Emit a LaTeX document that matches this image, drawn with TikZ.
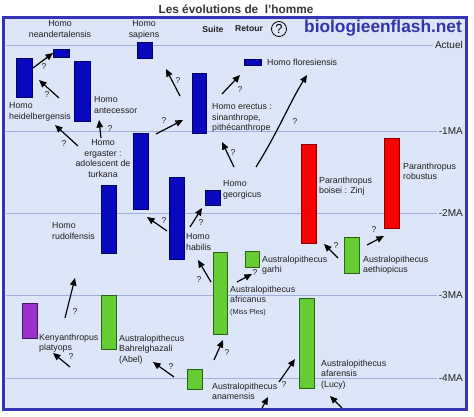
\documentclass[tikz,border=0pt]{standalone}
\usepackage{fontspec}
\setmainfont{Liberation Sans}
\usetikzlibrary{arrows.meta}
\definecolor{fond}{RGB}{221,229,248}
\definecolor{cadre}{RGB}{52,52,180}
\definecolor{trait}{RGB}{160,174,222}
\definecolor{texte}{RGB}{30,30,30}
\definecolor{site}{RGB}{51,51,170}
\definecolor{homo}{RGB}{8,8,190}
\definecolor{homob}{RGB}{0,0,100}
\definecolor{para}{RGB}{250,0,0}
\definecolor{parab}{RGB}{140,0,0}
\definecolor{austr}{RGB}{102,204,51}
\definecolor{austrb}{RGB}{40,100,20}
\definecolor{kenya}{RGB}{153,51,204}
\definecolor{kenyab}{RGB}{70,20,100}
\newcommand{\lab}{\fontsize{8.8}{10.5}\selectfont}
\newcommand{\espece}[6]{\node[#1, minimum width=#4, minimum height=#5] (#6) at (#2,#3) {};}
\tikzset{
  barre/.style={draw, line width=0.7pt, anchor=north west, inner sep=0pt},
  bhomo/.style={barre, fill=homo, draw=homob},
  bpara/.style={barre, fill=para, draw=parab},
  baustr/.style={barre, fill=austr, draw=austrb},
  bkenya/.style={barre, fill=kenya, draw=kenyab},
  lab/.style={font=\lab, text=texte, align=left, anchor=north west, inner sep=0pt},
  labc/.style={lab, align=center, anchor=north},
  qm/.style={font=\fontsize{8.5}{10}\selectfont, text=texte, inner sep=0pt},
  fleche/.style={line width=1.2pt, -{Triangle[length=7.5pt,width=6.5pt]}},
  ligne/.style={draw=trait, line width=0.8pt},
  ma/.style={font=\fontsize{10}{12}\selectfont, text=texte, anchor=east, inner sep=0pt},
}

\begin{document}
\begin{tikzpicture}[x=1pt,y=-1pt]
  \useasboundingbox (0,0) rectangle (474,417);
  \fill[fond] (3.5,17.5) rectangle (466.5,409.5);

  % echelle des temps
  \node[ma] (T0) at (463,44.5) {Actuel};
  \node[ma] (T1) at (463,131.5) {-1MA};
  \node[ma] (T2) at (463,213) {-2MA};
  \node[ma] (T3) at (463,295.5) {-3MA};
  \node[ma] (T4) at (463,378) {-4MA};
  \coordinate (G0) at (6,45.5);
  \coordinate (G1) at (6,131.5);
  \coordinate (G2) at (6,213);
  \coordinate (G3) at (6,295.5);
  \coordinate (G4) at (6,378);
  \draw[ligne] (G0) -- ([xshift=-2pt]T0.west |- G0);
  \draw[ligne] (G1) -- ([xshift=-2pt]T1.west |- G1);
  \draw[ligne] (G2) -- ([xshift=-2pt]T2.west |- G2);
  \draw[ligne] (G3) -- ([xshift=-2pt]T3.west |- G3);
  \draw[ligne] (G4) -- ([xshift=-2pt]T4.west |- G4);

  % genre Homo
  \espece{bhomo}{16}{58}{16}{39}{HEI}
  \espece{bhomo}{53}{49}{16}{8}{NEA}
  \espece{bhomo}{74}{61}{16}{60}{ANT}
  \espece{bhomo}{137}{42}{15}{16}{SAP}
  \espece{bhomo}{192}{73}{14}{60}{ERE}
  \espece{bhomo}{244}{59}{17}{6}{FLO}
  \espece{bhomo}{133}{133}{15}{76}{ERG}
  \espece{bhomo}{101}{185}{15}{68}{RUD}
  \espece{bhomo}{169}{177}{15}{82}{HAB}
  \espece{bhomo}{205}{190}{15}{15}{GEO}
  % Paranthropes
  \espece{bpara}{301}{144}{15}{99}{BOI}
  \espece{bpara}{384}{138}{15}{90}{ROB}
  % Australopitheques
  \espece{baustr}{344}{237}{15}{36}{AET}
  \espece{baustr}{245}{251}{14}{16}{GAR}
  \espece{baustr}{213}{252}{14}{82}{AFR}
  \espece{baustr}{299}{298}{15}{90}{AFA}
  \espece{baustr}{187}{369}{15}{20}{ANA}
  \espece{baustr}{101}{295}{15}{54}{BAH}
  \espece{bkenya}{22}{303}{15}{35}{KEN}

  \node[labc] (NEAl) at (60,20.5) {Homo\\neandertalensis};
  \node[labc] (SAPl) at (144,20.5) {Homo\\sapiens};
  \node[lab] (HEIl) at (9,102.5) {Homo\\heidelbergensis};
  \node[lab] (ANTl) at (94,96.5) {Homo\\antecessor};
  \node[lab] (EREl) at (212,103.5) {Homo erectus :\\sinanthrope,\\pithécanthrope};
  \node[lab] (FLOl) at (267,58.5) {Homo floresiensis};
  \node[labc] (ERGl) at (103,139.5) {Homo\\ergaster :\\adolescent de\\turkana};
  \node[lab] (RUDl) at (52,222.5) {Homo\\rudolfensis};
  \node[lab] (HABl) at (186,233.5) {Homo\\habilis};
  \node[lab] (GEOl) at (223,180.5) {Homo\\georgicus};
  \node[lab] (BOIl) at (319,176.5) {Paranthropus\\boisei : Zinj};
  \node[lab] (ROBl) at (403,162.5) {Paranthropus\\robustus};
  \node[lab] (AETl) at (363,255.5) {Australopithecus\\aethiopicus};
  \node[lab] (GARl) at (262,255.5) {Australopithecus\\garhi};
  \node[lab] (AFRl) at (230,285.5) {Australopithecus\\africanus\\[1.5pt]{\fontsize{7.2}{8}\selectfont (Miss Ples)}};
  \node[lab] (AFAl) at (321,359.5) {Australopithecus\\afarensis\\(Lucy)};
  \node[lab] (ANAl) at (212,382.5) {Australopithecus\\anamensis};
  \node[lab] (BAHl) at (119,334.5) {Australopithecus\\Bahrelghazali\\(Abel)};
  \node[lab] (KENl) at (39,333.5) {Kenyanthropus\\platyops};

  % liens de parente
  \coordinate (HEIo) at (33,68);    \coordinate (NEAi) at (53,53);
  \coordinate (ANTo) at (59,98);    \coordinate (HEIi1) at (39,80);
  \coordinate (EREo1) at (180,96);  \coordinate (SAPi) at (166,69);
  \coordinate (EREo2) at (222,94);  \coordinate (FLOi1) at (240,75);
  \coordinate (GEOo1) at (256,167); \coordinate (FLOi2) at (307,75);
  \coordinate (ERGo1) at (156,134); \coordinate (EREi1) at (183,120);
  \coordinate (ERGo2) at (101,138); \coordinate (ANTi) at (99,120);
  \coordinate (ERGo3) at (78,146);  \coordinate (HEIi2) at (55,125);
  \coordinate (HABo1) at (167,231); \coordinate (ERGi) at (147,217);
  \coordinate (HABo2) at (190,227); \coordinate (GEOi) at (202,208);
  \coordinate (GEOo2) at (234,167); \coordinate (EREi2) at (222,142);
  \coordinate (AFRo1) at (211,282); \coordinate (HABi) at (198,260);
  \coordinate (AFRo2) at (237,282); \coordinate (GARi) at (252,274);
  \coordinate (AETo1) at (338,258); \coordinate (BOIi) at (324,244);
  \coordinate (AETo2) at (367,245); \coordinate (ROBi) at (384,236);
  \coordinate (KENo) at (65,318);   \coordinate (RUDi) at (75,278);
  \coordinate (BASo1) at (70,367);  \coordinate (KENi) at (53,353);
  \coordinate (ANAo1) at (174,377); \coordinate (BAHi) at (153,362);
  \coordinate (ANAo2) at (214,360); \coordinate (AFRi) at (223,340);
  \coordinate (ANAo3) at (279,382); \coordinate (AFAi1) at (295,359);
  \coordinate (BASo2) at (261,410); \coordinate (ANAi) at (268,397);
  \coordinate (BASo3) at (342,408); \coordinate (AFAi2) at (330,396);

  \draw[fleche] (HEIo) -- (NEAi);
  \draw[fleche] (ANTo) -- (HEIi1);
  \draw[fleche] (EREo1) -- (SAPi);
  \draw[fleche] (EREo2) -- (FLOi1);
  \draw[fleche] (GEOo1) .. controls (278,132) and (290,102) .. (FLOi2);
  \draw[fleche] (ERGo1) -- (EREi1);
  \draw[fleche] (ERGo2) -- (ANTi);
  \draw[fleche] (ERGo3) -- (HEIi2);
  \draw[fleche] (HABo1) -- (ERGi);
  \draw[fleche] (HABo2) -- (GEOi);
  \draw[fleche] (GEOo2) -- (EREi2);
  \draw[fleche] (AFRo1) -- (HABi);
  \draw[fleche] (AFRo2) -- (GARi);
  \draw[fleche] (AETo1) -- (BOIi);
  \draw[fleche] (AETo2) -- (ROBi);
  \draw[fleche] (KENo) -- (RUDi);
  \draw[fleche] (BASo1) -- (KENi);
  \draw[fleche] (ANAo1) -- (BAHi);
  \draw[fleche] (ANAo2) -- (AFRi);
  \draw[fleche] (ANAo3) -- (AFAi1);
  \draw[fleche] (BASo2) -- (ANAi);
  \draw[fleche] (BASo3) -- (AFAi2);

  \node[qm] (q1) at (44,67) {?};
  \node[qm] (q2) at (47,95) {?};
  \node[qm] (q3) at (178,81) {?};
  \node[qm] (q4) at (240,90) {?};
  \node[qm] (q5) at (295,122) {?};
  \node[qm] (q6) at (164,121) {?};
  \node[qm] (q7) at (110,129) {?};
  \node[qm] (q8) at (64,144) {?};
  \node[qm] (q9) at (164,221) {?};
  \node[qm] (q10) at (201,223) {?};
  \node[qm] (q11) at (233,153) {?};
  \node[qm] (q12) at (199,280) {?};
  \node[qm] (q13) at (255,273) {?};
  \node[qm] (q14) at (336,246) {?};
  \node[qm] (q15) at (374,230) {?};
  \node[qm] (q16) at (75,312) {?};
  \node[qm] (q17) at (71,357) {?};
  \node[qm] (q18) at (171,367) {?};
  \node[qm] (q19) at (227,353) {?};
  \node[qm] (q20) at (284,385) {?};

  \draw[cadre, line width=2.5pt] (3.5,17.5) rectangle (466.5,409.5);

  % en-tete
  \node[font=\fontsize{11.8}{13}\selectfont\bfseries, text=texte!90, inner sep=0pt] (titre) at (236,9.5) {Les évolutions de\ \ l'homme};
  \node[font=\fontsize{8.6}{10}\selectfont\bfseries, text=texte, inner sep=0pt] (suite) at (213,29) {Suite};
  \node[font=\fontsize{8.6}{10}\selectfont\bfseries, text=texte, inner sep=0pt] (retour) at (249,29) {Retour};
  \node[draw, circle, line width=0.8pt, minimum size=15, inner sep=0pt, font=\fontsize{13}{13}\selectfont] (aide) at (279,29) {?};
  \node[anchor=west, font=\fontsize{17.3}{18}\selectfont\bfseries, text=site, inner sep=0pt] (site) at (304,28) {biologieenflash.net};
\end{tikzpicture}
\end{document}
